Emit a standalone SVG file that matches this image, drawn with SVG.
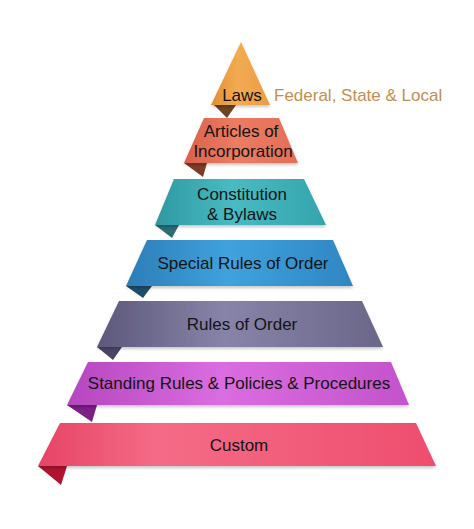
<svg xmlns="http://www.w3.org/2000/svg" width="474" height="529" viewBox="0 0 474 529">
<defs>
<filter id="sh" x="-10%" y="-20%" width="120%" height="160%">
<feDropShadow dx="0" dy="2" stdDeviation="1.6" flood-color="#000" flood-opacity="0.22"/>
</filter>
<linearGradient id="gLaws" x1="0" y1="0" x2="1" y2="0">
<stop offset="0" stop-color="#E28E34"/><stop offset="0.45" stop-color="#F2AB52"/><stop offset="1" stop-color="#EC9C42"/>
</linearGradient>
<linearGradient id="gArt" x1="0" y1="0" x2="1" y2="0">
<stop offset="0" stop-color="#D9604A"/><stop offset="0.45" stop-color="#EC7C63"/><stop offset="1" stop-color="#E46E56"/>
</linearGradient>
<linearGradient id="gCon" x1="0" y1="0" x2="1" y2="0">
<stop offset="0" stop-color="#2F98A2"/><stop offset="0.45" stop-color="#48BBC2"/><stop offset="1" stop-color="#35A4AD"/>
</linearGradient>
<linearGradient id="gSpe" x1="0" y1="0" x2="1" y2="0">
<stop offset="0" stop-color="#2C7DB6"/><stop offset="0.45" stop-color="#40A2DD"/><stop offset="1" stop-color="#2E86C2"/>
</linearGradient>
<linearGradient id="gRul" x1="0" y1="0" x2="1" y2="0">
<stop offset="0" stop-color="#5C587A"/><stop offset="0.45" stop-color="#8884A9"/><stop offset="1" stop-color="#6A6688"/>
</linearGradient>
<linearGradient id="gSta" x1="0" y1="0" x2="1" y2="0">
<stop offset="0" stop-color="#B546BF"/><stop offset="0.45" stop-color="#DA6DE0"/><stop offset="1" stop-color="#C353CB"/>
</linearGradient>
<linearGradient id="gCus" x1="0" y1="0" x2="1" y2="0">
<stop offset="0" stop-color="#E64464"/><stop offset="0.3" stop-color="#F56B87"/><stop offset="1" stop-color="#EE4E6D"/>
</linearGradient>
<style>
.lbl{font-family:"Liberation Sans",Arial,sans-serif;font-size:17px;fill:#141414;text-anchor:middle}
.sub{font-family:"Liberation Sans",Arial,sans-serif;font-size:17px;fill:#C48E52}
.band{filter:url(#sh)}
</style>
</defs>
<rect width="474" height="529" fill="#fff"/>

<g id="laws">
<polygon points="214,105 236,105 227,118" fill="#6E4422"/>
<polygon class="band" points="241,42 211,105 270,105" fill="url(#gLaws)"/>
<text class="lbl" x="242" y="101">Laws</text>
<text class="sub" x="274" y="101">Federal, State &amp; Local</text>
</g>

<g id="articles">
<polygon points="184,163 207,163 203,177" fill="#7E3B28"/>
<polygon class="band" points="204,118 279,118 298,163 184,163" fill="url(#gArt)"/>
<text class="lbl" x="241" y="137">Articles of</text>
<text class="lbl" x="243" y="157">Incorporation</text>
</g>

<g id="constitution">
<polygon points="155,225 179,225 172,238" fill="#2A6D74"/>
<polygon class="band" points="174,179 304,179 326,225 155,225" fill="url(#gCon)"/>
<text class="lbl" x="242" y="200">Constitution</text>
<text class="lbl" x="242" y="220">&amp; Bylaws</text>
</g>

<g id="special">
<polygon points="126,286 152,286 143,298" fill="#1E4D6B"/>
<polygon class="band" points="147,240 333,240 353,286 126,286" fill="url(#gSpe)"/>
<text class="lbl" x="243" y="269">Special Rules of Order</text>
</g>

<g id="rules">
<polygon points="97,347 122,347 113,360" fill="#4A4668"/>
<polygon class="band" points="119,301 362,301 383,347 97,347" fill="url(#gRul)"/>
<text class="lbl" x="242" y="330">Rules of Order</text>
</g>

<g id="standing">
<polygon points="67,405 97,405 92,422" fill="#7A1F86"/>
<polygon class="band" points="88,362 391,362 409,405 67,405" fill="url(#gSta)"/>
<text class="lbl" x="239" y="389">Standing Rules &amp; Policies &amp; Procedures</text>
</g>

<g id="custom">
<polygon points="38,466 67,466 61,485" fill="#B0122F"/>
<polygon class="band" points="60,423 416,423 436,466 38,466" fill="url(#gCus)"/>
<text class="lbl" x="239" y="451">Custom</text>
</g>
</svg>
